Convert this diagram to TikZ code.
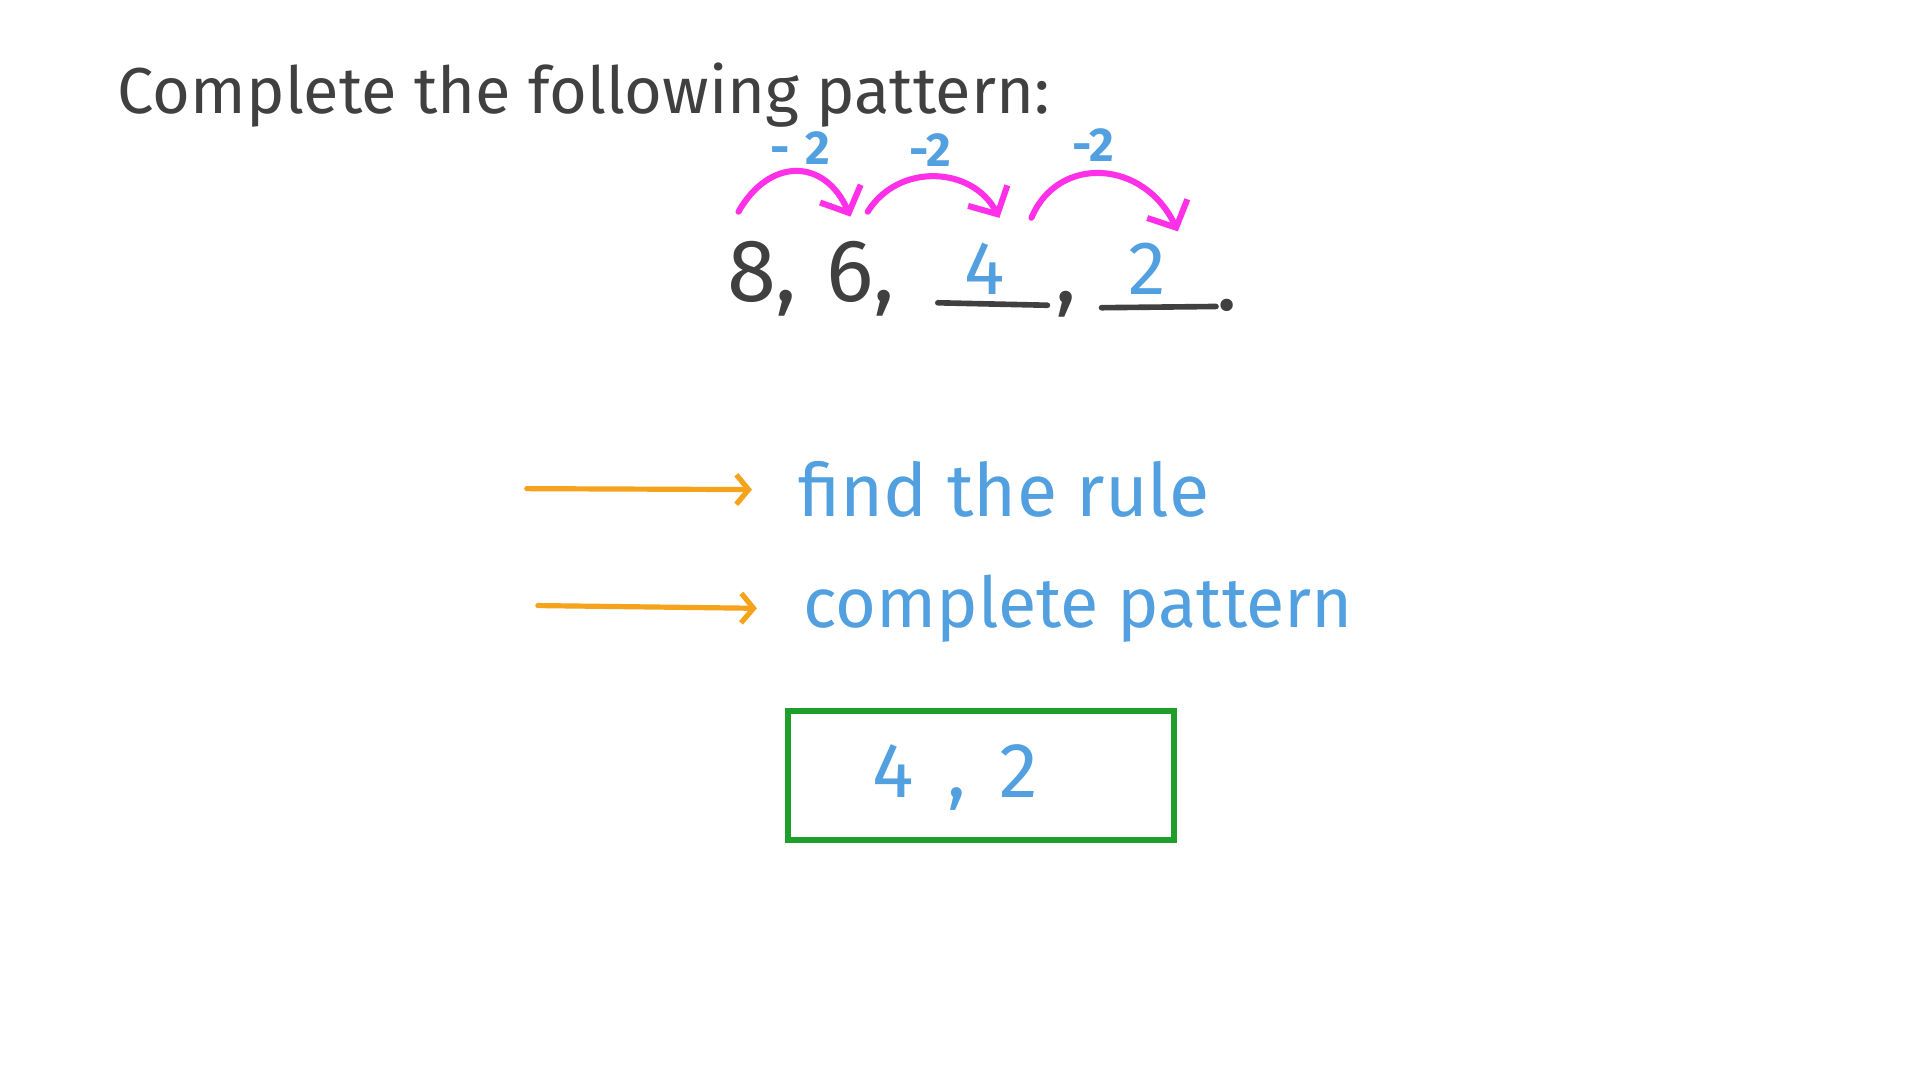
\documentclass[tikz,border=0pt]{standalone}
\usepackage{fontspec}
\setmainfont{Fira Sans}
\usepackage{tikz}
\usetikzlibrary{arrows.meta}
\definecolor{ink}{RGB}{64,64,64}
\definecolor{chalkblue}{RGB}{82,160,224}
\definecolor{jump}{RGB}{255,48,232}
\definecolor{hint}{RGB}{245,163,26}
\definecolor{boxgreen}{RGB}{30,158,42}

\begin{document}
\begin{tikzpicture}[x=0.01cm,y=-0.01cm,
    hop/.style={draw=jump,line width=1.4pt,line cap=round,-{Straight Barb[length=0.17cm,width=0.36cm]}},
    pointer/.style={draw=hint,line width=1.2pt,line cap=round,shorten >=0.37cm,-{Straight Barb[length=0.1cm,width=0.24cm]}},
    blank/.style={draw=ink,line width=1.3pt,line cap=round}]
   \useasboundingbox (0,0) rectangle (1560,877.5);
   % question
   \node (title) at (95,92) [anchor=base west,inner sep=0pt,text=ink,font=\fontsize{15}{18}\selectfont] {Complete the following pattern:};
   % sequence
   \node (given) at (590,245) [anchor=base west,inner sep=0pt,text=ink,font=\fontsize{20.5}{24}\selectfont] {8,\,\,6,};
   \node (four) at (800,218) [text=chalkblue,font=\fontsize{17.5}{20}\selectfont] {4};
   \coordinate (u1a) at (762,246);
   \coordinate (u1b) at (851,248);
   \draw[blank] (u1a) -- (u1b);
   \node (comma) at (866,246) [anchor=base,inner sep=0pt,text=ink,font=\fontsize{20.5}{24}\selectfont] {,};
   \node (two) at (932,218) [text=chalkblue,font=\fontsize{17.5}{20}\selectfont] {2};
   \coordinate (u2a) at (895,250);
   \coordinate (u2b) at (988,249);
   \draw[blank] (u2a) -- (u2b);
   \node (stop) at (997,252) [anchor=base,inner sep=0pt,text=ink,font=\fontsize{20.5}{24}\selectfont] {.};
   % jumps
   \coordinate (j1a) at (600,172);
   \coordinate (j1b) at (691,176);
   \draw[hop] (j1a) .. controls (625,128) and (670,128) .. (j1b);
   \coordinate (j2a) at (705,172);
   \coordinate (j2b) at (812,177);
   \draw[hop] (j2a) .. controls (730,132) and (790,135) .. (j2b);
   \coordinate (j3a) at (838,177);
   \coordinate (j3b) at (957,188);
   \draw[hop] (j3a) .. controls (860,125) and (930,130) .. (j3b);
   \node (d1) at (650,120) [text=chalkblue,font=\bfseries\fontsize{11}{13}\selectfont] {-\,\,2};
   \node (d2) at (756,122) [text=chalkblue,font=\bfseries\fontsize{11}{13}\selectfont] {-2};
   \node (d3) at (888,118) [text=chalkblue,font=\bfseries\fontsize{11}{13}\selectfont] {-2};
   % steps
   \node (rule) at (648,420) [anchor=base west,inner sep=0pt,text=chalkblue,font=\fontsize{17}{21}\selectfont] {find the rule};
   \coordinate (r1) at (428,397);
   \draw[pointer] (r1) -- (rule.west);
   \node (fill) at (652,510) [anchor=base west,inner sep=0pt,text=chalkblue,font=\fontsize{16.2}{20}\selectfont] {complete pattern};
   \coordinate (r2) at (437,492);
   \draw[pointer] (r2) -- (fill.west);
   % answer
   \node (ansbox) at (797,630) [draw=boxgreen,line width=1.4pt,minimum width=3.14cm,minimum height=1.05cm] {};
   \node (ans) at (776,632) [text=chalkblue,font=\fontsize{18}{22}\selectfont] {4\ \,,\ \,2};
\end{tikzpicture}
\end{document}
